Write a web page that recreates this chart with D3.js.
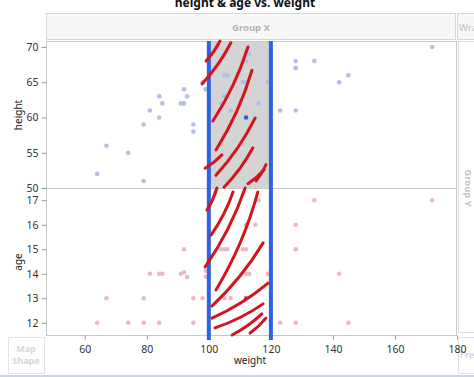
<!DOCTYPE html>
<html>
<head>
<meta charset="utf-8">
<script src="https://d3js.org/d3.v7.min.js"></script>
<style>
  body { margin: 0; background: #fff; }
  svg { display: block; }
  text { font-family: "Noto Sans", "Open Sans", sans-serif; }
  .tick-label { font-size: 10.5px; fill: #333; }
  .axis-title { font-size: 10px; fill: #222; }
</style>
</head>
<body>
<script>
// -----------------------------------------------------------------------------
// data (Big Class)
// -----------------------------------------------------------------------------
var weight = [95,123,74,145,64,84,128,79,112,107,67,98,105,95,79,81,91,142,84,85,93,99,119,92,112,99,113,92,112,128,111,105,104,106,112,115,128,116,134,172];
var height = [59,61,55,66,52,60,61,51,60,61,56,65,63,58,59,61,62,65,63,62,63,64,65,64,68,64,69,62,64,67,65,66,62,66,65,60,68,62,68,70];
var age    = [12,12,12,12,12,12,12,12,13,13,13,13,13,13,13,14,14,14,14,14,13.87,14.12,14,14.06,14,13.88,14,15,15,15,15,15,15,15,16,16,16,17,17,17];
var selectedRow = 8;

var xTicks = [60, 80, 100, 120, 140, 160, 180];
var heightTicks = [50, 55, 60, 65, 70];
var ageTicks = [12, 13, 14, 15, 16, 17];

var rangeLo = 100, rangeHi = 120;   // selected weight range

// red pen strokes drawn over the chart, [w1, v1, w2, v2] in data units
var heightStrokes = [
  [99.1,68.0,103.6,70.85],[97.8,64.75,107.1,70.6],[101.3,59.5,112.6,70.0],[102.3,55.4,113.9,66.7],
  [98.8,52.8,104.2,54.7],[102.3,51.8,114.9,59.9],[104.9,50.1,114.2,55.7],[112.6,50.6,117.8,52.6],[115.2,51.0,118.4,53.3]
];
var ageStrokes = [
  [99.4,16.6,102.6,17.5],[100.7,15.58,107.8,17.34],[98.8,14.28,111.7,17.5],[102.3,13.34,115.8,17.34],
  [101.0,12.68,117.5,15.26],[101.0,12.19,119.1,13.62],[102.0,11.79,117.5,12.77],[107.5,11.5,117.1,12.36],[113.3,11.58,118.4,12.19]
];

// -----------------------------------------------------------------------------
var W = 474, H = 377;
var plot = { left: 46, right: 457, top: 41, mid: 188, bottom: 335 };

var svg = d3.select("body").append("svg").attr("width", W).attr("height", H);

var x = d3.scaleLinear().domain([47.5, 180]).range([plot.left, plot.right]);
var yH = d3.scaleLinear().domain([50, 70.85]).range([plot.mid, plot.top]);
var yA = d3.scaleLinear().domain([11.5, 17.5]).range([plot.bottom, plot.mid]);

// title
svg.append("text").attr("x", 245).attr("y", 7).attr("text-anchor", "middle")
  .style("font-size", "12px").style("font-weight", "bold").style("fill", "#111")
  .text("height & age vs. weight");

// header boxes
svg.append("rect").attr("x", 46.5).attr("y", 13.5).attr("width", 409).attr("height", 26)
  .attr("fill", "#f8f8f8").attr("stroke", "#d6d6d6");
svg.append("text").attr("x", 251).attr("y", 31).attr("text-anchor", "middle")
  .style("font-size", "9.5px").style("font-weight", "bold").style("fill", "#b4b4b4").text("Group X");
svg.append("rect").attr("x", 457.5).attr("y", 13.5).attr("width", 20).attr("height", 26)
  .attr("fill", "#f8f8f8").attr("stroke", "#d6d6d6");
svg.append("text").attr("x", 459).attr("y", 31)
  .style("font-size", "9.5px").style("fill", "#c0c0c0").text("Wra");

// right strip
svg.append("rect").attr("x", 458.5).attr("y", 41.5).attr("width", 20).attr("height", 291)
  .attr("fill", "#fff").attr("stroke", "#dcdcdc");
svg.append("text").attr("transform", "translate(465,188) rotate(90)").attr("text-anchor", "middle")
  .style("font-size", "9.5px").style("font-weight", "bold").style("fill", "#c4c4c4").text("Group Y");
svg.append("rect").attr("x", 458.5).attr("y", 337.5).attr("width", 20).attr("height", 36)
  .attr("fill", "#fff").attr("stroke", "#e2e2e2");
svg.append("text").attr("x", 460).attr("y", 358)
  .style("font-size", "9.5px").style("fill", "#c8c8c8").text("Fre");

// map shape box
svg.append("rect").attr("x", 8.5).attr("y", 337.5).attr("width", 36).attr("height", 36)
  .attr("fill", "#fff").attr("stroke", "#e4e4e4");
svg.append("text").attr("x", 26).attr("y", 352).attr("text-anchor", "middle")
  .style("font-size", "9px").style("font-weight", "bold").style("fill", "#d2d6de").text("Map");
svg.append("text").attr("x", 26).attr("y", 364).attr("text-anchor", "middle")
  .style("font-size", "9px").style("font-weight", "bold").style("fill", "#d2d6de").text("Shape");
svg.append("rect").attr("x", 0).attr("y", 375).attr("width", W).attr("height", 2).attr("fill", "#c9d5ea");

// shaded selection (top panel only)
svg.append("rect").attr("x", x(rangeLo)).attr("y", plot.top)
  .attr("width", x(rangeHi) - x(rangeLo)).attr("height", plot.mid - plot.top)
  .attr("fill", "#d4d4d4");

// frame
svg.append("rect").attr("x", plot.left + 0.5).attr("y", plot.top + 0.5)
  .attr("width", plot.right - plot.left - 1).attr("height", plot.bottom - plot.top)
  .attr("fill", "none").attr("stroke", "#c8c8c8");
svg.append("line").attr("x1", plot.left).attr("x2", plot.right)
  .attr("y1", plot.mid + 0.5).attr("y2", plot.mid + 0.5).attr("stroke", "#c8c8c8");

// axes
var gx = svg.append("g").attr("transform", "translate(0," + (plot.bottom + 0.5) + ")")
  .call(d3.axisBottom(x).tickValues(xTicks).tickSize(4).tickPadding(4));
var gh = svg.append("g").attr("transform", "translate(" + (plot.left + 0.5) + ",0)")
  .call(d3.axisLeft(yH).tickValues(heightTicks).tickSize(5).tickPadding(3));
var ga = svg.append("g").attr("transform", "translate(" + (plot.left + 0.5) + ",0)")
  .call(d3.axisLeft(yA).tickValues(ageTicks).tickFormat(d3.format("d")).tickSize(5).tickPadding(3));
[gx, gh, ga].forEach(function(g) {
  g.select(".domain").remove();
  g.selectAll(".tick line").attr("stroke", "#999");
  g.selectAll(".tick text").attr("class", "tick-label").attr("font-family", null).attr("font-size", null);
});
gx.selectAll(".tick text").attr("dy", "0.9em");

svg.append("text").attr("class", "axis-title").attr("transform", "translate(22,115) rotate(-90)")
  .attr("text-anchor", "middle").text("height");
svg.append("text").attr("class", "axis-title").attr("transform", "translate(22,262) rotate(-90)")
  .attr("text-anchor", "middle").text("age");
svg.append("text").attr("class", "axis-title").attr("x", 250).attr("y", 364)
  .attr("text-anchor", "middle").text("weight");

// points
var rows = weight.map(function(w, i) { return { w: w, h: height[i], a: age[i], sel: i === selectedRow }; });

svg.append("g").selectAll("circle").data(rows).enter().append("circle")
  .attr("cx", function(d) { return x(d.w); })
  .attr("cy", function(d) { return yH(d.h); })
  .attr("r", 2.3)
  .attr("fill", function(d) { return d.sel ? "#3b5fc6" : "#b3bfe3"; });

svg.append("g").selectAll("circle").data(rows).enter().append("circle")
  .attr("cx", function(d) { return x(d.w); })
  .attr("cy", function(d) { return yA(d.a); })
  .attr("r", 2.3)
  .attr("fill", function(d) { return d.sel ? "#c84a6e" : "#e9b9c5"; });

// range lines
[rangeLo, rangeHi].forEach(function(v) {
  svg.append("line").attr("x1", x(v)).attr("x2", x(v))
    .attr("y1", plot.top).attr("y2", plot.bottom + 5)
    .attr("stroke", "#2d62e3").attr("stroke-width", 4);
});

// red pen strokes
function strokePath(s, yScale) {
  var x1 = x(s[0]), y1 = yScale(s[1]), x2 = x(s[2]), y2 = yScale(s[3]);
  var dx = x2 - x1, dy = y2 - y1;
  var cx = (x1 + x2) / 2 - dy * 0.07, cy = (y1 + y2) / 2 + dx * 0.07;
  return "M" + x1 + "," + y1 + "Q" + cx + "," + cy + " " + x2 + "," + y2;
}
var pen = svg.append("g").attr("fill", "none").attr("stroke", "#d3151d")
  .attr("stroke-width", 3).attr("stroke-linecap", "round");
heightStrokes.forEach(function(s) { pen.append("path").attr("d", strokePath(s, yH)); });
ageStrokes.forEach(function(s) { pen.append("path").attr("d", strokePath(s, yA)); });
</script>
</body>
</html>
